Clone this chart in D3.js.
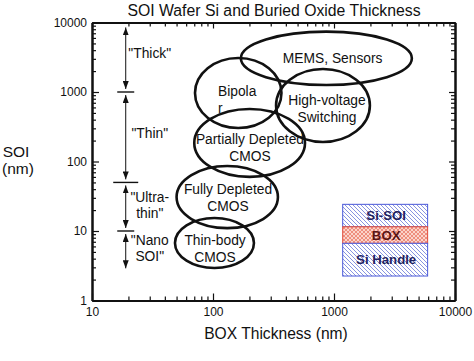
<!DOCTYPE html>
<html><head><meta charset="utf-8">
<script src="https://cdn.jsdelivr.net/npm/d3@7"></script>
<style>
body{margin:0;background:#fff;}
text{font-family:"Liberation Sans",Arial,sans-serif;fill:#111;}
</style></head><body>
<svg id="c" width="474" height="361"></svg>
<script>
// ---- data ----
const xMajorTicks = [10, 100, 1000, 10000];
const yMajorTicks = [1, 10, 100, 1000, 10000];
const regionNames = ["MEMS, Sensors", "Bipolar", "High-voltage Switching", "Partially Depleted CMOS", "Fully Depleted CMOS", "Thin-body CMOS"];
const regionLabelLines = [["MEMS, Sensors"], ["Bipola", "r"], ["High-voltage", "Switching"], ["Partially Depleted", "CMOS"], ["Fully Depleted", "CMOS"], ["Thin-body", "CMOS"]];
const boxMin = [170, 71, 332, 70, 50, 48.5];
const boxMax = [4400, 368, 1980, 576, 344, 218];
const soiMin = [1260, 303, 191, 60, 11, 2.93];
const soiMax = [7400, 3085, 2140, 569, 86, 15.4];
const labelBox = [975, 110, 875, 202, 133, 104];
const labelSoi = [3100, 767, 579, 156, 30.3, 5.6];
const labelAlign = ["middle", "start", "middle", "middle", "middle", "middle"];
const rangeBounds = [8500, 1000, 50, 10, 2.9];
const rangeLabels = [['"Thick"'], ['"Thin"'], ['"Ultra-', 'thin"'], ['"Nano', 'SOI"']];
const rangeLabelSoi = [3640, 257, 23.7, 5.7];
const rangeBox = 19;
const stackLayers = ["Si-SOI", "BOX", "Si Handle"];
const stackSoi = [24.2, 11.5, 6.65, 2.25];
const stackBox = [1180, 5940];

// ---- layout ----
const svg = d3.select("#c");
const L = 92, R = 455, T = 22.5, B = 300.5;
const x = d3.scaleLog().domain([10, 10000]).range([L, R]);
const y = d3.scaleLog().domain([1, 10000]).range([B, T]);
const font = '"Liberation Sans",Arial,sans-serif';

// defs
const defs = svg.append("defs");
const hb = defs.append("pattern").attr("id", "hatchBlue").attr("patternUnits", "userSpaceOnUse")
  .attr("width", 4).attr("height", 4);
hb.append("rect").attr("width", 4).attr("height", 4).attr("fill", "#fff");
hb.append("path").attr("d", "M-1,-1 L5,5 M-1,3 L1,5 M3,-1 L5,1").attr("stroke", "#6a78d8").attr("stroke-width", 0.8);
const hr = defs.append("pattern").attr("id", "hatchRed").attr("patternUnits", "userSpaceOnUse")
  .attr("width", 4).attr("height", 4);
hr.append("rect").attr("width", 4).attr("height", 4).attr("fill", "#fbd3cb");
hr.append("path").attr("d", "M-1,-1 L5,5 M-1,3 L1,5 M3,-1 L5,1 M-1,5 L5,-1 M-1,1 L1,-1 M3,5 L5,3").attr("stroke", "#e8705c").attr("stroke-width", 0.7);
defs.append("marker").attr("id", "arr").attr("viewBox", "0 0 8 6").attr("refX", 8).attr("refY", 3)
  .attr("markerWidth", 8).attr("markerHeight", 6).attr("markerUnits", "userSpaceOnUse").attr("orient", "auto-start-reverse")
  .append("path").attr("d", "M0,0 L8,3 L0,6 Z").attr("fill", "#111");

// axes
function styleAxis(g, label) {
  g.select(".domain").attr("stroke", "#111").attr("stroke-width", 2);
  g.selectAll(".tick line").attr("stroke", "#111").attr("stroke-width", 1.2);
  g.selectAll(".tick text").attr("font-family", font).attr("font-size", 12).attr("fill", "#111");
  if (!label) g.selectAll(".tick text").remove();
}
const xMinor = x.ticks().filter(v => !xMajorTicks.includes(v));
const yMinor = y.ticks().filter(v => !yMajorTicks.includes(v));
const fmt = d3.format("d");

svg.append("g").attr("transform", `translate(0,${B})`)
  .call(d3.axisBottom(x).tickValues(xMinor).tickSize(-4).tickSizeOuter(0).tickFormat(""))
  .call(g => styleAxis(g, false));
svg.append("g").attr("transform", `translate(0,${B})`)
  .call(d3.axisBottom(x).tickValues(xMajorTicks).tickSize(-7).tickSizeOuter(0).tickPadding(7).tickFormat(fmt))
  .call(g => styleAxis(g, true));
svg.append("g").attr("transform", `translate(0,${T})`)
  .call(d3.axisTop(x).tickValues(xMinor).tickSize(-4).tickSizeOuter(0).tickFormat(""))
  .call(g => styleAxis(g, false));
svg.append("g").attr("transform", `translate(0,${T})`)
  .call(d3.axisTop(x).tickValues(xMajorTicks).tickSize(-6).tickSizeOuter(0).tickFormat(""))
  .call(g => styleAxis(g, false));
svg.append("g").attr("transform", `translate(${L},0)`)
  .call(d3.axisLeft(y).tickValues(yMinor).tickSize(-4).tickSizeOuter(0).tickFormat(""))
  .call(g => styleAxis(g, false));
svg.append("g").attr("transform", `translate(${L},0)`)
  .call(d3.axisLeft(y).tickValues(yMajorTicks).tickSize(-7).tickSizeOuter(0).tickPadding(5).tickFormat(fmt))
  .call(g => styleAxis(g, true));
svg.append("g").attr("transform", `translate(${R},0)`)
  .call(d3.axisRight(y).tickValues(yMinor).tickSize(-4).tickSizeOuter(0).tickFormat(""))
  .call(g => styleAxis(g, false));
svg.append("g").attr("transform", `translate(${R},0)`)
  .call(d3.axisRight(y).tickValues(yMajorTicks).tickSize(-6).tickSizeOuter(0).tickFormat(""))
  .call(g => styleAxis(g, false));

// title & labels
svg.append("text").attr("x", 274).attr("y", 15.5).attr("text-anchor", "middle").attr("font-size", 15.8).text("SOI Wafer Si and Buried Oxide Thickness");
svg.append("text").attr("x", 276).attr("y", 339).attr("text-anchor", "middle").attr("font-size", 15.6).text("BOX Thickness (nm)");
svg.append("text").attr("x", 16).attr("y", 157).attr("text-anchor", "middle").attr("font-size", 15.5).text("SOI");
svg.append("text").attr("x", 18).attr("y", 174).attr("text-anchor", "middle").attr("font-size", 15.5).text("(nm)");

// ellipses
const regions = regionNames.map((n, i) => ({ n, i }));
svg.append("g").selectAll("ellipse").data(regions).join("ellipse")
  .attr("cx", d => (x(boxMin[d.i]) + x(boxMax[d.i])) / 2)
  .attr("cy", d => (y(soiMin[d.i]) + y(soiMax[d.i])) / 2)
  .attr("rx", d => (x(boxMax[d.i]) - x(boxMin[d.i])) / 2)
  .attr("ry", d => (y(soiMin[d.i]) - y(soiMax[d.i])) / 2)
  .attr("fill", "none").attr("stroke", "#111").attr("stroke-width", 2.6);

regions.forEach(d => {
  const lines = regionLabelLines[d.i];
  const lh = 17;
  const y0 = y(labelSoi[d.i]) - (lines.length - 1) * lh / 2;
  const t = svg.append("text").attr("font-size", 13.8).attr("text-anchor", labelAlign[d.i]);
  lines.forEach((s, k) => t.append("tspan").attr("x", x(labelBox[d.i])).attr("y", y0 + k * lh).attr("dy", "0.35em").text(s));
});

// range arrows
const ax = x(rangeBox);
for (let i = 0; i < rangeBounds.length - 1; i++) {
  const yTop = y(rangeBounds[i]) + (i === 0 ? 0 : 3);
  const yBot = y(rangeBounds[i + 1]) - (i === rangeBounds.length - 2 ? 0 : 3);
  svg.append("line").attr("x1", ax).attr("x2", ax).attr("y1", yTop).attr("y2", yBot)
    .attr("stroke", "#111").attr("stroke-width", 1)
    .attr("marker-start", "url(#arr)").attr("marker-end", "url(#arr)");
  const lines = rangeLabels[i];
  const lh = 16;
  const y0 = y(rangeLabelSoi[i]) - (lines.length - 1) * lh / 2;
  const t = svg.append("text").attr("font-size", 13.8).attr("text-anchor", "middle");
  lines.forEach((s, k) => t.append("tspan").attr("x", ax + 24).attr("y", y0 + k * lh).attr("dy", "0.35em").text(s));
}
rangeBounds.slice(1, -1).forEach((b, k) => {
  const hw = k === 1 ? 12.5 : 8.5;
  svg.append("line").attr("x1", ax - hw).attr("x2", ax + hw).attr("y1", y(b)).attr("y2", y(b))
    .attr("stroke", "#111").attr("stroke-width", 1.4);
});

// layer stack inset
const sx0 = x(stackBox[0]), sx1 = x(stackBox[1]);
const stackColors = ["#1f2260", "#5a1414", "#1f2260"];
stackLayers.forEach((name, i) => {
  const yt = y(stackSoi[i]), yb = y(stackSoi[i + 1]);
  svg.append("rect").attr("x", sx0).attr("y", yt).attr("width", sx1 - sx0).attr("height", yb - yt)
    .attr("fill", i === 1 ? "url(#hatchRed)" : "url(#hatchBlue)")
    .attr("stroke", i === 1 ? "#e04a3a" : "#4a58d8").attr("stroke-width", 1);
  svg.append("text").attr("x", (sx0 + sx1) / 2 + 1).attr("y", (yt + yb) / 2).attr("dy", "0.36em")
    .attr("text-anchor", "middle").attr("font-size", 13.2).attr("font-weight", "bold")
    .style("fill", stackColors[i]).text(name);
});
</script>
</body></html>
